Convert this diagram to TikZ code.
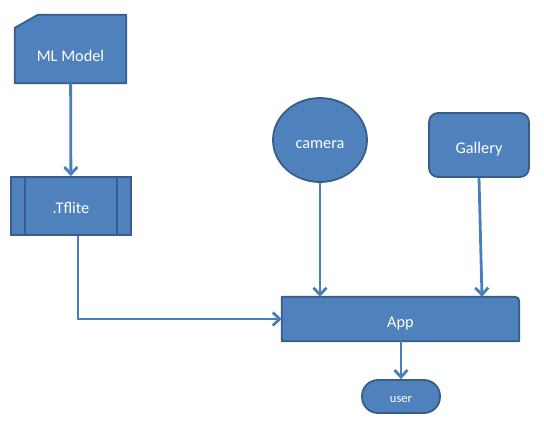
\documentclass[tikz,border=0pt]{standalone}
\usepackage{fontspec}
\setmainfont{Carlito}
\usetikzlibrary{arrows.meta,shapes.geometric,backgrounds}
\definecolor{boxfill}{HTML}{4F81BD}
\definecolor{boxline}{HTML}{385D8A}
\definecolor{arrowc}{HTML}{4A7EBB}
\begin{document}
\begin{tikzpicture}[x=1pt,y=-1pt,
  lbl/.style={text=white,font=\fontsize{16.3}{19}\selectfont,inner sep=0pt,text height=17pt,text depth=0pt},
  box/.style={lbl,fill=boxfill,draw=boxline,line width=1.8pt},
  shapefill/.style={fill=boxfill,draw=boxline,line width=1.8pt,line join=round},
  arr/.style={draw=arrowc,line width=2.8pt,-{Straight Barb[length=7pt,width=13pt,line width=2.8pt]}}]
\useasboundingbox (0,0) rectangle (544,424);
% ML Model (snipped corner)
\node[lbl,minimum width=111pt,minimum height=68pt,text height=25pt] (ml) at (70.5,49) {ML Model};
% .Tflite (predefined process)
\node[box,minimum width=120pt,minimum height=58pt,text height=15pt] (tf) at (71,206) {.Tflite};
\draw[boxline,line width=1.8pt] ([xshift=15pt]tf.north west) -- ([xshift=15pt]tf.south west);
\draw[boxline,line width=1.8pt] ([xshift=-15pt]tf.north east) -- ([xshift=-15pt]tf.south east);
% camera
\node[box,ellipse,minimum width=94pt,minimum height=84pt] (cam) at (320,140) {camera};
% Gallery
\node[box,rounded corners=9pt,minimum width=100pt,minimum height=64pt] (gal) at (479,145) {Gallery};
% App (one rounded corner)
\node[lbl,minimum width=237pt,minimum height=44pt] (app) at (400.5,319) {App};
% user
\node[box,rounded corners=16pt,minimum width=78pt,minimum height=33pt,font=\fontsize{12.5}{15}\selectfont,text height=12pt] (user) at (401,396.5) {user};
\begin{scope}[on background layer]
\path[shapefill] (ml.south west) -- (ml.south east) -- (ml.north east)
  -- ([xshift=23pt]ml.north west) -- ([yshift=-13pt]ml.north west) -- cycle;
\path[shapefill] (app.south west) -- (app.north west) -- ([xshift=-9pt]app.north east)
  .. controls (app.north east) .. ([yshift=-9pt]app.north east) -- (app.south east) -- cycle;
\end{scope}
% connectors
\draw[arr] (ml) -- (tf);
\draw[arr] ([xshift=7pt]tf.south) |- (app.west);
\draw[arr] (cam.south) -- (cam.south |- app.north);
\draw[arr] (gal.south) -- ([xshift=3pt]gal.south |- app.north);
\draw[arr] (user.north |- app.south) -- (user.north);
\end{tikzpicture}
\end{document}
